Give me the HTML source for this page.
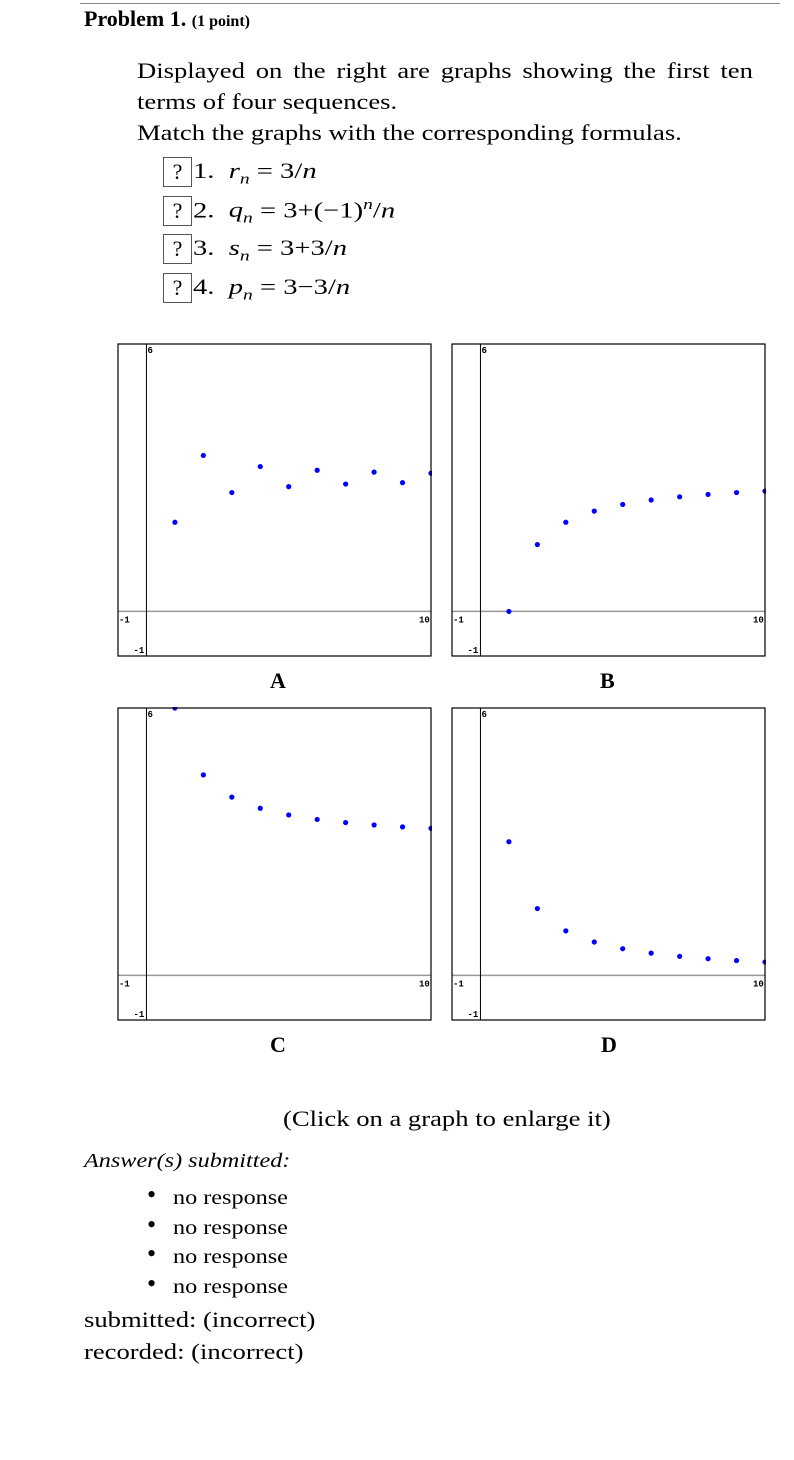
<!DOCTYPE html>
<html><head><meta charset="utf-8"><style>
body{margin:0;width:794px;height:1460px;background:#fff;font-family:"Liberation Serif",serif;color:#000;position:relative;overflow:hidden}
.a{position:absolute;white-space:nowrap}
.sx{transform:scaleX(1.21);transform-origin:0 0}
.box{position:absolute;left:163px;width:27px;height:28px;border:1px solid #555;font-size:22px;text-align:center;line-height:28px}
.t{font-size:22px}
i{font-style:italic}
svg text{font-family:"Liberation Mono",monospace;font-size:9px;font-weight:bold}
</style></head><body>
<div class="a" style="left:80px;top:3px;width:700px;border-top:1px solid #888"></div>
<div class="a" style="left:84px;top:6px;font-size:22px;font-weight:bold">Problem 1. <span style="font-size:16px">(1 point)</span></div>
<div class="a t sx" style="left:137px;top:55px;width:509px;white-space:normal;line-height:31px;text-align:justify">Displayed on the right are graphs showing the first ten terms of four sequences.<br>Match the graphs with the corresponding formulas.</div>
<div class="box" style="top:157px">?</div>
<div class="box" style="top:196px">?</div>
<div class="box" style="top:234px">?</div>
<div class="box" style="top:273px">?</div>
<div class="a t" style="left:193px;top:158px;transform:scaleX(1.3);transform-origin:0 0">1. &nbsp;<i>r<sub style="font-size:15px">n</sub></i> = 3/<i>n</i></div>
<div class="a t" style="left:193px;top:197px;transform:scaleX(1.3);transform-origin:0 0">2. &nbsp;<i>q<sub style="font-size:15px">n</sub></i> = 3+(−1)<sup style="font-size:15px"><i>n</i></sup>/<i>n</i></div>
<div class="a t" style="left:193px;top:235px;transform:scaleX(1.3);transform-origin:0 0">3. &nbsp;<i>s<sub style="font-size:15px">n</sub></i> = 3+3/<i>n</i></div>
<div class="a t" style="left:193px;top:274px;transform:scaleX(1.3);transform-origin:0 0">4. &nbsp;<i>p<sub style="font-size:15px">n</sub></i> = 3−3/<i>n</i></div>
<div id="graphs"></div>
<div class="a" style="left:270px;top:668px;font-size:22px;font-weight:bold">A</div>
<div class="a" style="left:600px;top:668px;font-size:22px;font-weight:bold">B</div>
<div class="a" style="left:270px;top:1032px;font-size:22px;font-weight:bold">C</div>
<div class="a" style="left:601px;top:1032px;font-size:22px;font-weight:bold">D</div>
<div class="a t sx" style="left:283px;top:1106px">(Click on a graph to enlarge it)</div>
<div class="a sx" style="left:84px;top:1150px;font-size:20px;font-style:italic">Answer(s) submitted:</div>
<div class="a" style="left:147px;top:1180px;font-size:26px;line-height:29.5px">•<br>•<br>•<br>•</div>
<div class="a sx" style="left:173px;top:1184px;font-size:20px;line-height:29.5px">no response<br>no response<br>no response<br>no response</div>
<div class="a t sx" style="left:84px;top:1307px">submitted: (incorrect)</div>
<div class="a t sx" style="left:84px;top:1339px">recorded: (incorrect)</div>
<script>
const nValues=[1,2,3,4,5,6,7,8,9,10];
const seriesA=[2,3.5,2.667,3.25,2.8,3.167,2.857,3.125,2.889,3.1];
const seriesB=[0,1.5,2,2.25,2.4,2.5,2.571,2.625,2.667,2.7];
const seriesC=[6,4.5,4,3.75,3.6,3.5,3.429,3.375,3.333,3.3];
const seriesD=[3,1.5,1,0.75,0.6,0.5,0.429,0.375,0.333,0.3];
const xTicks=["-1","10"];const yTicks=["6","-1"];
const graphs=[["graph-a",118,344,seriesA],["graph-b",452,344,seriesB],["graph-c",118,708,seriesC],["graph-d",452,708,seriesD]];
const W=313,H=312,xmin=-1,xmax=10,ymin=-1,ymax=6;
const sx=v=>(v-xmin)/(xmax-xmin)*W, sy=v=>H-(v-ymin)/(ymax-ymin)*H;
const NS="http://www.w3.org/2000/svg";
const host=document.getElementById('graphs');
graphs.forEach(([name,l,t,ser])=>{
 const s=document.createElementNS(NS,'svg');
 
 
 s.setAttribute('width',W+2);s.setAttribute('height',H+2);
 s.style.cssText=`position:absolute;left:${l-1}px;top:${t-1}px;overflow:hidden`;
 let h=`<g transform="translate(1,1)"><line x1="0" x2="${W}" y1="${sy(0)}" y2="${sy(0)}" stroke="#999" stroke-width="1.5"/><line x1="${sx(0)}" x2="${sx(0)}" y1="0" y2="${H}" stroke="#000" stroke-width="1"/>`;
 h+=`<text x="${sx(0)+1}" y="9">${yTicks[0]}</text><text x="${sx(0)-13}" y="${H-3}">${yTicks[1]}</text><text x="1" y="${sy(0)+11}">${xTicks[0]}</text><text x="${W-12}" y="${sy(0)+11}">${xTicks[1]}</text>`;
 ser.forEach((v,i)=>{h+=`<circle cx="${sx(nValues[i])}" cy="${sy(v)}" r="2.6" fill="#0000ff"/>`;});
 h+=`<rect x="0" y="0" width="${W}" height="${H}" fill="none" stroke="#000" stroke-width="1.2"/></g>`;
 s.innerHTML=h;host.appendChild(s);
});
</script>
</body></html>
